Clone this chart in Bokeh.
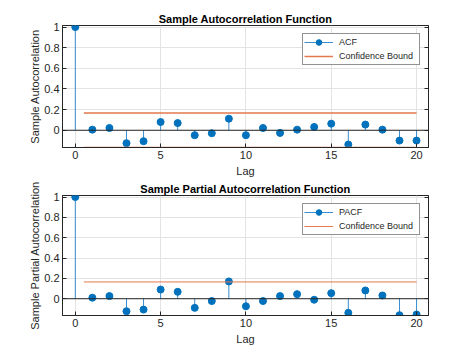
from bokeh.plotting import figure
from bokeh.models import (Range1d, FixedTicker, Span, Legend, LegendItem, LinearAxis,
                          CustomJSTickFormatter, ColumnDataSource)
from bokeh.layouts import column
from bokeh.embed import file_html
from bokeh.resources import INLINE

lags = list(range(21))
acf = [1.0, 0.006, 0.022, -0.125, -0.106, 0.080, 0.070, -0.048, -0.029, 0.112, -0.048,
       0.022, -0.026, 0.006, 0.032, 0.064, -0.138, 0.055, 0.006, -0.100, -0.100]
pacf = [1.0, 0.010, 0.026, -0.123, -0.107, 0.090, 0.068, -0.090, -0.023, 0.170, -0.074,
        -0.023, 0.026, 0.045, -0.010, 0.055, -0.139, 0.081, 0.032, -0.162, -0.155]
acf_bound = 0.167
pacf_bound = 0.165
bound_x = [0.5, 20]
x_ticks = [0, 5, 10, 15, 20]
y_ticks = [0, 0.2, 0.4, 0.6, 0.8, 1]

FONT = "Liberation Sans"
DARK = "#262626"
BLUE = "#0072BD"
ORANGE = "#E5784D"


def make(title, ylabel, vals, bound, name, height, top, bottom, bw):
    p = figure(width=474, height=height, x_range=Range1d(-0.75, 20.7),
               y_range=Range1d(-bound, 1.015), output_backend="svg",
               toolbar_location=None, min_border_left=62, min_border_right=46,
               min_border_top=top, min_border_bottom=bottom)
    p.title.text = title
    p.title.align = "center"
    p.title.text_font = FONT
    p.title.text_font_size = "11px"
    p.title.text_font_style = "bold"
    p.title.text_color = "#000000"
    p.title.standoff = 2
    p.outline_line_color = DARK
    p.outline_line_alpha = 1
    p.grid.grid_line_color = "#e3e3e3"

    p.xaxis.ticker = FixedTicker(ticks=x_ticks)
    p.yaxis.ticker = FixedTicker(ticks=y_ticks)
    p.yaxis.formatter = CustomJSTickFormatter(code="return (Math.round(tick*10)/10).toString();")
    p.xaxis.axis_label = "Lag"
    p.yaxis.axis_label = ylabel
    for ax in [p.xaxis[0], p.yaxis[0]]:
        ax.axis_line_color = DARK
        ax.major_tick_line_color = DARK
        ax.major_tick_in = 4
        ax.major_tick_out = 0
        ax.minor_tick_line_color = None
        ax.major_label_text_font = FONT
        ax.major_label_text_font_size = "11px"
        ax.major_label_text_color = DARK
        ax.axis_label_text_font = FONT
        ax.axis_label_text_font_size = "11px"
        ax.axis_label_text_font_style = "normal"
        ax.axis_label_text_color = DARK
        ax.major_label_standoff = 3
    p.xaxis.axis_label_standoff = 3
    p.yaxis.axis_label_standoff = 0

    rax = LinearAxis(ticker=FixedTicker(ticks=y_ticks),
                     formatter=CustomJSTickFormatter(code="return '';"),
                     major_tick_in=4, major_tick_out=0, minor_tick_line_color=None,
                     axis_line_color=DARK, major_tick_line_color=DARK)
    p.add_layout(rax, "right")

    src = ColumnDataSource(dict(lag=lags, val=vals, zero=[0] * len(lags)))
    p.add_layout(Span(location=0, dimension="width", line_color=DARK, line_width=1))
    seg = p.segment(x0="lag", y0="zero", x1="lag", y1="val", source=src,
                    line_color="#3a8dd0", line_width=1)
    sc = p.scatter(x="lag", y="val", source=src, size=7, fill_color=BLUE, line_color=BLUE)
    up = p.line(bound_x, [bound, bound], line_color=ORANGE, line_width=bw)
    p.line(bound_x, [-bound, -bound], line_color=ORANGE, line_width=bw)

    leg = Legend(items=[LegendItem(label=name, renderers=[seg, sc]),
                        LegendItem(label="Confidence Bound", renderers=[up])],
                 location="top_right")
    leg.label_text_font = FONT
    leg.label_text_font_size = "9px"
    leg.label_text_color = DARK
    leg.border_line_color = DARK
    leg.border_line_width = 1
    leg.padding = 1
    leg.spacing = -4
    leg.margin = 8
    leg.glyph_width = 29
    leg.glyph_height = 14
    leg.label_height = 11
    leg.label_width = 79
    leg.label_standoff = 6
    leg.background_fill_alpha = 1
    p.add_layout(leg)
    return p


p1 = make("Sample Autocorrelation Function", "Sample Autocorrelation", acf, acf_bound,
          "ACF", 179, 25, 32, 1.5)
p2 = make("Sample Partial Autocorrelation Function", "Sample Partial Autocorrelation", pacf,
          pacf_bound, "PACF", 176, 15, 40, 1)

layout = column(p1, p2, spacing=0)
open("out.html", "w").write(file_html(layout, INLINE))
